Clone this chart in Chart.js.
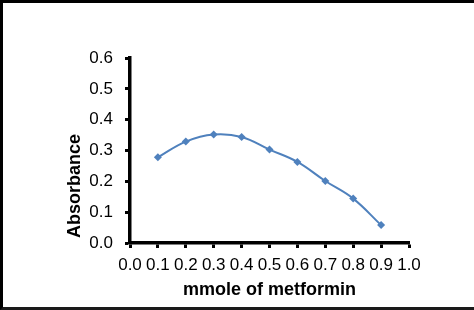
<!DOCTYPE html>
<html>
<head>
<meta charset="utf-8">
<script src="https://cdn.jsdelivr.net/npm/chart.js@4"></script>
<style>
  html, body { margin: 0; padding: 0; background: #fff; }
  #wrap { position: relative; width: 474px; height: 310px; overflow: hidden; }
  #frame {
    position: absolute; left: 0; top: 0; width: 471px; height: 304px;
    border-top: 3px solid #000; border-left: 3px solid #000; border-bottom: 3px solid #1a1a1a;
  }
  #chart { position: absolute; left: 0; top: 0; }
</style>
</head>
<body>
<div id="wrap">
  <div id="frame"></div>
  <canvas id="chart" width="474" height="310"></canvas>
</div>
<script>
const mmole = [0.1, 0.2, 0.3, 0.4, 0.5, 0.6, 0.7, 0.8, 0.9];
const absorbance = [0.278, 0.329, 0.352, 0.344, 0.303, 0.263, 0.201, 0.144, 0.058];
const xRange = [0, 1.0];
const yRange = [0, 0.6];
const tickStep = 0.1;

const FONT = 'Liberation Sans, Arial, sans-serif';

function axisStyle(tickPad) {
  return {
    border: { display: true, color: '#000', width: 3.5 },
    grid: {
      display: true,
      drawOnChartArea: false,
      drawTicks: true,
      tickLength: 5,
      tickWidth: 3,
      tickColor: '#000'
    },
    ticks: {
      stepSize: tickStep,
      padding: tickPad,
      color: '#000',
      autoSkip: false,
      maxRotation: 0,
      minRotation: 0,
      font: { family: FONT, size: 17 },
      callback: v => Number(v).toFixed(1)
    }
  };
}

const xAxis = axisStyle(7);
const yAxis = axisStyle(12);

new Chart(document.getElementById('chart'), {
  type: 'line',
  data: {
    datasets: [{
      label: 'Absorbance',
      data: mmole.map((x, i) => ({ x: x, y: absorbance[i] })),
      borderColor: '#4f81bd',
      backgroundColor: '#4f81bd',
      borderWidth: 2,
      tension: 0.4,
      fill: false,
      pointStyle: 'rectRot',
      pointRadius: 4,
      pointBorderWidth: 0
    }]
  },
  options: {
    responsive: false,
    animation: false,
    layout: { padding: { left: 0, top: 58, right: 65, bottom: 0 } },
    plugins: {
      legend: { display: false },
      tooltip: { enabled: false }
    },
    scales: {
      x: Object.assign(xAxis, {
        type: 'linear',
        min: xRange[0],
        max: xRange[1],
        title: {
          display: true,
          text: 'mmole of metformin',
          color: '#000',
          font: { family: FONT, size: 18, weight: 'bold' },
          padding: { top: 0, bottom: 9 }
        },
        afterFit: s => { s.height = 67; }
      }),
      y: Object.assign(yAxis, {
        min: yRange[0],
        max: yRange[1],
        title: {
          display: true,
          text: ' Absorbance',
          align: 'start',
          color: '#000',
          font: { family: FONT, size: 18, weight: 'bold' },
          padding: { top: 64, bottom: 0 }
        },
        afterFit: s => { s.width = 130; }
      })
    }
  }
});
</script>
</body>
</html>
